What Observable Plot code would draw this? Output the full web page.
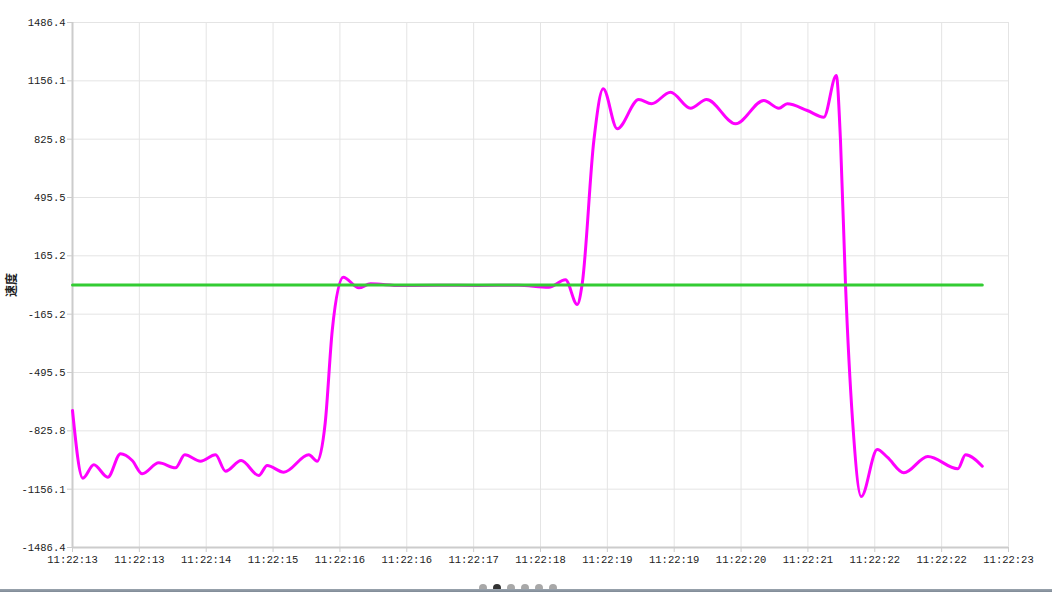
<!DOCTYPE html>
<html>
<head>
<meta charset="utf-8">
<script src="https://cdn.jsdelivr.net/npm/d3@7"></script>
<script src="https://cdn.jsdelivr.net/npm/@observablehq/plot@0.6"></script>
<style>
  html, body { margin: 0; padding: 0; background: #fff; width: 1052px; height: 592px; overflow: hidden; }
  #wrap { position: relative; width: 1052px; height: 592px; }
  #dots { position: absolute; left: 479px; top: 584px; display: flex; gap: 6px; }
  #dots span { width: 8px; height: 8px; border-radius: 50%; background: #a8a8a8; display: block; }
  #dots span.on { background: #333; }
  #bar { position: absolute; left: 0; top: 589px; width: 1052px; height: 3px; background: linear-gradient(#9aa4ae, #7f8a96); }
</style>
</head>
<body>
<div id="wrap">
  <div id="chart"></div>
  <div id="dots"><span></span><span class="on"></span><span></span><span></span><span></span><span></span></div>
  <div id="bar"></div>
</div>
<script>
// elapsed seconds since 11:22:13
const times = [0, 0.110, 0.228, 0.377, 0.513, 0.638, 0.745, 0.922, 1.100, 1.200, 1.368, 1.528, 1.635, 1.802, 1.990, 2.080, 2.257, 2.525, 2.614, 2.700, 2.775, 2.892, 3.059, 3.184, 3.504, 3.900, 4.330, 4.760, 5.089, 5.267, 5.392, 5.446, 5.570, 5.670, 5.820, 6.050, 6.186, 6.389, 6.603, 6.774, 7.084, 7.386, 7.547, 7.636, 7.850, 8.027, 8.160, 8.205, 8.259, 8.334, 8.427, 8.598, 8.705, 8.882, 9.138, 9.459, 9.541, 9.720];
const speed = [-710.6, -1094.0, -1018.1, -1088.3, -955.8, -993.8, -1069.1, -1006.8, -1035.1, -961.5, -997.7, -961.5, -1054.4, -993.8, -1078.7, -1022.1, -1060.0, -961.5, -997.7, -780.0, -257.6, 44.2, -15.9, 6.8, -2.8, -1.5, -2.5, -1.0, -12.5, 29.4, -110.4, 8.5, 818.2, 1111.0, 884.5, 1050.4, 1026.0, 1091.7, 1001.1, 1050.4, 912.8, 1044.7, 1001.1, 1026.0, 988.1, 950.2, 1186.3, 818.2, -2.8, -767.3, -1197.6, -931.5, -975.1, -1063.4, -971.1, -1040.8, -961.5, -1026.0];
const refTimes = [0, 9.720];
const refSpeed = [0, 0];

const xTickLabels = ["11:22:13","11:22:13","11:22:14","11:22:15","11:22:16","11:22:16","11:22:17","11:22:18","11:22:19","11:22:19","11:22:20","11:22:21","11:22:22","11:22:22","11:22:23"];
const yTickLabels = ["1486.4","1156.1","825.8","495.5","165.2","-165.2","-495.5","-825.8","-1156.1","-1486.4"];
const yLabel = "速度";

const xTicks = xTickLabels.map((_, i) => i * 10 / (xTickLabels.length - 1));
const yTicks = yTickLabels.map(Number);
const series = times.map((t, i) => ({t, v: speed[i]}));
const ref = refTimes.map((t, i) => ({t, v: refSpeed[i]}));

const chart = Plot.plot({
  width: 1052,
  height: 592,
  marginLeft: 72,
  marginRight: 44,
  marginTop: 22,
  marginBottom: 45,
  style: {fontFamily: "'Liberation Mono', monospace", fontSize: "10.5px", color: "#333", background: "#fff"},
  x: {domain: [0, 10]},
  y: {domain: [-1486.4, 1486.4]},
  marks: [
    Plot.gridX(xTicks, {stroke: "#e4e4e4", strokeOpacity: 1}),
    Plot.gridY(yTicks, {stroke: "#e4e4e4", strokeOpacity: 1}),
    Plot.axisX(xTicks, {tickSize: 5, stroke: "#ccc", tickPadding: 3, tickFormat: (d, i) => xTickLabels[i], label: null, fill: "#222"}),
    Plot.axisY(yTicks, {tickSize: 5, stroke: "#ccc", tickPadding: 2, tickFormat: (d, i) => yTickLabels[i], label: null, fill: "#222"}),
    Plot.ruleX([0], {stroke: "#ccc", strokeWidth: 2}),
    Plot.ruleY([-1486.4], {stroke: "#ccc", strokeWidth: 2}),
    Plot.line(series, {x: "t", y: "v", stroke: "#ff00ff", strokeWidth: 3, curve: "monotone-x"}),
    Plot.line(ref, {x: "t", y: "v", stroke: "#33cc33", strokeWidth: 3}),
    Plot.text([yLabel], {frameAnchor: "left", textAnchor: "middle", dx: -60, rotate: -90, text: d => d, fontFamily: "'Noto Sans CJK SC', sans-serif", fontSize: 12, fontWeight: "bold", fill: "#222"})
  ]
});
document.getElementById("chart").appendChild(chart);
</script>
</body>
</html>
